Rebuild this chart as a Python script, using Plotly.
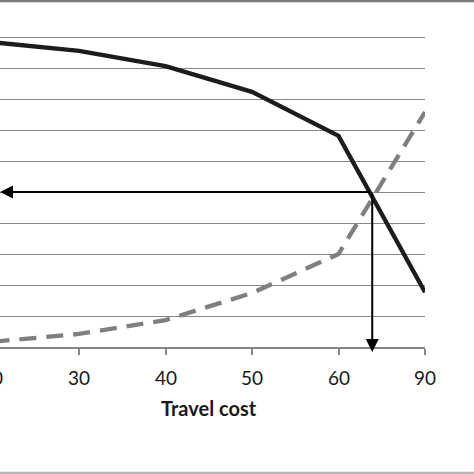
import plotly.graph_objects as go

# ---- data ----
categories = ["20", "30", "40", "50", "60", "90"]          # travel cost
solid_values = [98.3, 95.5, 90.6, 82.3, 68.1, 17.7]         # solid black series
dashed_values = [1.7, 4.2, 8.7, 17.4, 30.0, 75.8]           # dashed grey series
arrow_cost_pos = 4.39      # category-index position of the vertical guide arrow
arrow_value = 50           # value level of the horizontal guide arrow
arrow_floor = -1.6         # where the down arrow tip ends (just below axis)

idx = list(range(len(categories)))

W, H = 474, 474
ml, mr, mt, mb = 0, 49, 34, 127
x_max = len(categories) - 1
px_per_cat = 86.5
plot_w = W - ml - mr
x_min = x_max - plot_w / px_per_cat
y_top = 100 + 3 / 3.1   # a little above 100 so the top grid line is drawn

def xpaper(v):
    return (v - x_min) / (x_max - x_min)

plot_h = H - mt - mb
def ypaper_px(py):
    # pixel y (from top of figure) -> paper
    return (H - mb - py) / plot_h

fig = go.Figure()
fig.add_trace(go.Scatter(x=idx, y=dashed_values, mode="lines",
                         line=dict(color="#7f7f7f", width=4.3, dash="17px,10px"),
                         showlegend=False, hoverinfo="skip"))
fig.add_trace(go.Scatter(x=idx, y=solid_values, mode="lines",
                         line=dict(color="#1c1c1c", width=4.3),
                         showlegend=False, hoverinfo="skip"))

annotations = []
# tick labels (as annotations so the clipped left one shows partially)
for i, c in zip(idx, categories):
    annotations.append(dict(xref="paper", yref="paper", x=xpaper(i), y=ypaper_px(377),
                            text=c, showarrow=False, xanchor="center", yanchor="middle",
                            font=dict(family="Lato", size=19, color="#1a1a1a")))
# axis title
annotations.append(dict(xref="paper", yref="paper", x=xpaper((idx[0] + idx[-1]) / 2),
                        y=ypaper_px(408), text="<b>Travel cost</b>", showarrow=False,
                        xanchor="center", yanchor="middle",
                        font=dict(family="Lato", size=20, color="#1a1a1a")))
# guide arrows
annotations.append(dict(x=x_min, y=arrow_value, ax=arrow_cost_pos, ay=arrow_value,
                        xref="x", yref="y", axref="x", ayref="y", text="",
                        showarrow=True, arrowhead=2, arrowsize=1.3, arrowwidth=2,
                        arrowcolor="#000000", standoff=0))
annotations.append(dict(x=arrow_cost_pos, y=arrow_floor, ax=arrow_cost_pos, ay=arrow_value,
                        xref="x", yref="y", axref="x", ayref="y", text="",
                        showarrow=True, arrowhead=2, arrowsize=1.3, arrowwidth=2,
                        arrowcolor="#000000", standoff=0))

shapes = [
    dict(type="line", xref="paper", yref="paper", x0=-0.1, x1=1.3,
         y0=ypaper_px(1), y1=ypaper_px(1), line=dict(color="#7a7a7a", width=2.5)),
    dict(type="line", xref="paper", yref="paper", x0=-0.1, x1=1.3,
         y0=ypaper_px(473), y1=ypaper_px(473), line=dict(color="#b5b5b5", width=2.5)),
]

fig.update_layout(
    width=W, height=H, margin=dict(l=ml, r=mr, t=mt, b=mb),
    plot_bgcolor="white", paper_bgcolor="white",
    annotations=annotations, shapes=shapes,
    xaxis=dict(range=[x_min, x_max], tickvals=idx, ticktext=[""] * len(idx),
               ticks="outside", ticklen=6, tickwidth=1.5, tickcolor="#868686",
               showline=True, linecolor="#868686", linewidth=1.5,
               showgrid=False, zeroline=False, fixedrange=True),
    yaxis=dict(range=[0, y_top], dtick=10, tick0=0, showgrid=True,
               gridcolor="#868686", gridwidth=1.4, showticklabels=False,
               zeroline=False, showline=False, fixedrange=True),
)

fig.write_html("out.html", config={"displayModeBar": False},
               post_script="document.body.style.margin='0';document.body.style.overflow='hidden';")
